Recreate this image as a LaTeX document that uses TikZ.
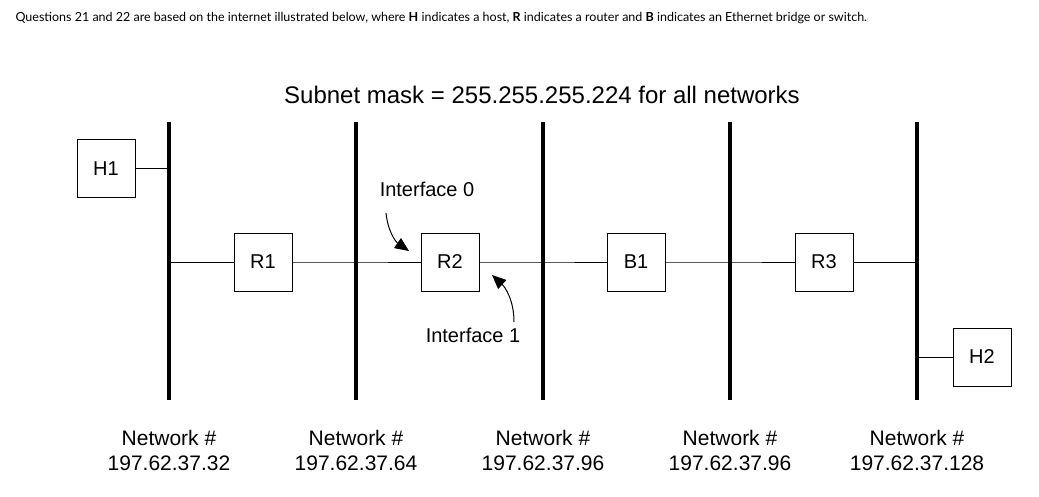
\documentclass[tikz,border=0pt]{standalone}
\usepackage{fontspec}
\setmainfont{Liberation Sans}
\newfontfamily\lato{Lato}
\usetikzlibrary{arrows.meta}
\begin{document}
\begin{tikzpicture}[x=1pt,y=-1pt,
  box/.style={draw,line width=1pt,minimum width=58pt,minimum height=58pt,inner sep=0,font=\fontsize{20}{22}\selectfont},
  bus/.style={line width=4.5pt},
  wire/.style={line width=1pt},
  lbl/.style={font=\fontsize{21}{25}\selectfont,align=center},
  arr/.style={line width=1pt,-{Triangle[length=14pt,width=12pt]}}]
\useasboundingbox (0,0) rectangle (1039,496);
\node[anchor=west,font=\lato\fontsize{12.5}{14}\selectfont] (q) at (12,18) {Questions 21 and 22 are based on the internet illustrated below, where \textbf{H} indicates a host, \textbf{R} indicates a router and \textbf{B} indicates an Ethernet bridge or switch.};
\node[font=\fontsize{24}{28}\selectfont] (t) at (542,95) {Subnet mask = 255.255.255.224 for all networks};
\foreach \i/\x in {1/169,2/356,3/543,4/730,5/917}{
  \coordinate (t\i) at (\x,122); \coordinate (b\i) at (\x,400);
  \draw[bus] (t\i) -- (b\i);
  \coordinate (m\i) at (\x,262);
}
\node[box] (H1) at (106,168.5) {H1};
\node[box] (R1) at (263,262) {R1};
\node[box] (R2) at (450,262) {R2};
\node[box] (B1) at (636,262) {B1};
\node[box] (R3) at (824,262) {R3};
\node[box] (H2) at (982,357) {H2};
\coordinate (h1c) at (169,168.5);
\coordinate (h2c) at (917,357);
\draw[wire] (H1) -- (h1c);
\draw[wire] (H2) -- (h2c);
\draw[wire] (m1) -- (R1) -- (m2) -- (R2) -- (m3) -- (B1) -- (m4) -- (R3) -- (m5);
\node[font=\fontsize{20}{22}\selectfont] (i0) at (427,189) {Interface 0};
\node[font=\fontsize{20}{22}\selectfont] (i1) at (473,335) {Interface 1};
\coordinate (a0) at (409,251);
\coordinate (a1) at (492,275);
\draw[arr] (386,213) .. controls (388,232) and (396,242) .. (a0);
\draw[arr] (514,322) .. controls (514,300) and (505,287) .. (a1);
\node[lbl] (n1) at (169,450) {Network \#\\197.62.37.32};
\node[lbl] (n2) at (356,450) {Network \#\\197.62.37.64};
\node[lbl] (n3) at (543,450) {Network \#\\197.62.37.96};
\node[lbl] (n4) at (730,450) {Network \#\\197.62.37.96};
\node[lbl] (n5) at (917,450) {Network \#\\197.62.37.128};
\end{tikzpicture}
\end{document}
